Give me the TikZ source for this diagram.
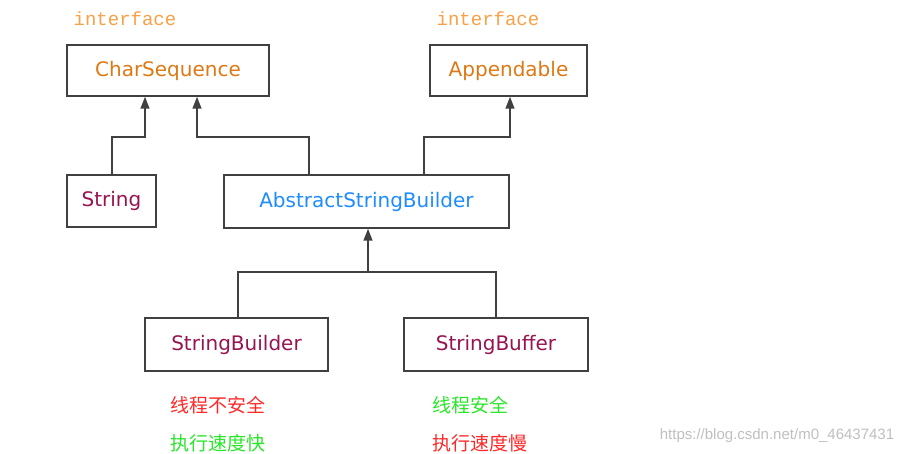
\documentclass[tikz,border=0pt]{standalone}
\usepackage{fontspec}
\setmainfont{DejaVu Sans}
\newfontfamily\cjk{Noto Sans CJK SC}
\newfontfamily\monof{Liberation Mono}
\newfontfamily\wmf{Liberation Sans}
\usetikzlibrary{arrows.meta}
\definecolor{orng}{RGB}{222,120,20}
\definecolor{ifc}{RGB}{250,160,70}
\definecolor{plum}{RGB}{150,20,80}
\definecolor{blu}{RGB}{30,140,255}
\definecolor{rd}{RGB}{255,40,40}
\definecolor{gr}{RGB}{40,230,40}
\begin{document}
\begin{tikzpicture}[x=1pt,y=-1pt,
  box/.style={draw=black!75,line width=1.5pt,inner sep=0pt,font=\fontsize{20}{24}\selectfont},
  link/.style={draw=black!75,line width=1.6pt},
  inh/.style={link,-{Triangle[length=12pt,width=9pt]}},
  cn/.style={font=\cjk\fontsize{19}{22}\selectfont}]
\useasboundingbox (0,0) rectangle (912,454);
\node[box,text=orng,minimum width=202pt,minimum height=51pt] (cs) at (168,70.5) {CharSequence};
\node[box,text=orng,minimum width=157pt,minimum height=51pt] (ap) at (508.5,70.5) {Appendable};
\node[box,text=plum,minimum width=89pt,minimum height=52pt] (st) at (111.5,201) {String};
\node[box,text=blu,minimum width=285pt,minimum height=53pt] (asb) at (366.5,201.5) {AbstractStringBuilder};
\node[box,text=plum,minimum width=183pt,minimum height=53pt] (sbd) at (236.5,344.5) {StringBuilder};
\node[box,text=plum,minimum width=184pt,minimum height=53pt] (sbf) at (496,344.5) {StringBuffer};
\node[text=ifc,font=\monof\fontsize{19}{22}\selectfont] (i1) at (125,19) {interface};
\node[text=ifc,font=\monof\fontsize{19}{22}\selectfont] (i2) at (488,19) {interface};
\node[cn,text=rd] (t1) at (218,405) {线程不安全};
\node[cn,text=gr] (t2) at (218,443) {执行速度快};
\node[cn,text=gr] (t3) at (470,405) {线程安全};
\node[cn,text=rd] (t4) at (480,443) {执行速度慢};
\node[text=black!25,font=\wmf\fontsize{15}{17}\selectfont] (wm) at (777,436) {https://blog.csdn.net/m0\_46437431};
\coordinate (a1) at (112,137); \coordinate (a2) at (145,137);
\draw[inh] (st.north -| a1) -- (a1) -- (a2) -- (cs.south -| a2);
\coordinate (b1) at (309,137); \coordinate (b2) at (197,137);
\draw[inh] (asb.north -| b1) -- (b1) -- (b2) -- (cs.south -| b2);
\coordinate (c1) at (424,137); \coordinate (c2) at (510,137);
\draw[inh] (asb.north -| c1) -- (c1) -- (c2) -- (ap.south -| c2);
\coordinate (d1) at (238,272); \coordinate (d2) at (496,272); \coordinate (d3) at (368,272);
\draw[link] (sbd.north -| d1) -- (d1) -- (d2) -- (sbf.north -| d2);
\draw[inh] (d3) -- (asb.south -| d3);
\end{tikzpicture}
\end{document}
